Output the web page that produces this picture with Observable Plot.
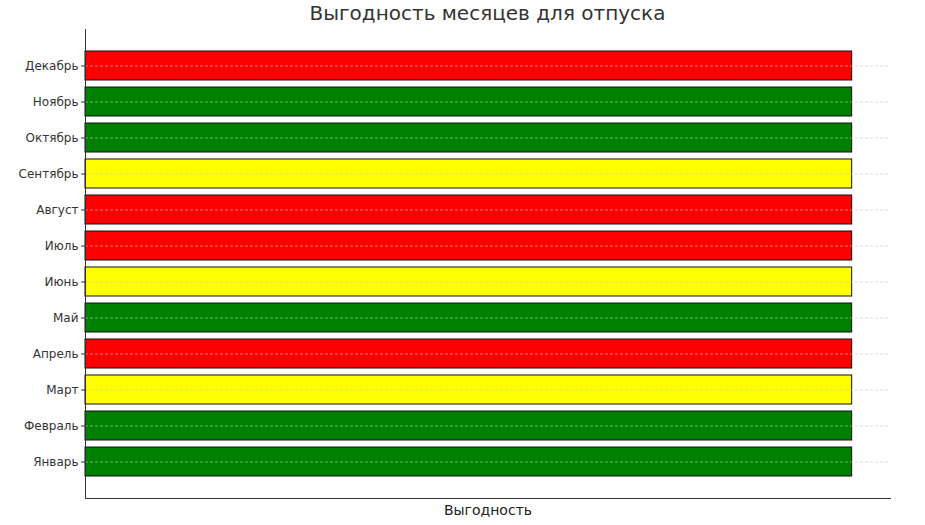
<!DOCTYPE html>
<html><head><meta charset="utf-8">
<script src="https://cdn.jsdelivr.net/npm/d3@7"></script>
<script src="https://cdn.jsdelivr.net/npm/@observablehq/plot@0.6"></script>
<style>
body{margin:0;background:#fff;font-family:"DejaVu Sans",sans-serif;}
#title{height:29px;line-height:27px;text-align:center;font-size:20px;color:#333;padding-left:50px;}
</style></head>
<body>
<div id="title">Выгодность месяцев для отпуска</div>
<div id="chart"></div>
<script>
const months = ["Январь","Февраль","Март","Апрель","Май","Июнь","Июль","Август","Сентябрь","Октябрь","Ноябрь","Декабрь"];
const values = [1,1,1,1,1,1,1,1,1,1,1,1];
const colors = ["green","green","yellow","red","green","yellow","red","red","yellow","green","green","red"];
const colorHex = {green:"#008000", yellow:"#ffff00", red:"#ff0000"};
const data = months.map((m,i)=>({month:m, value:values[i], color:colorHex[colors[i]]}));

const chart = Plot.plot({
  width: 925, height: 496,
  marginTop: 0, marginBottom: 27, marginLeft: 85, marginRight: 35,
  style: {fontFamily: "DejaVu Sans, sans-serif", fontSize: "12px", color: "#333"},
  x: {domain: [0, 1.05], axis: null},
  y: {domain: months.slice().reverse(), paddingInner: 0.2, paddingOuter: 0.6, label: null},
  marks: [
    Plot.barX(data, {y: "month", x: "value", fill: "color", stroke: "#111", strokeWidth: 1}),
    Plot.gridY({stroke: "#c8c8c8", strokeOpacity: 1, strokeDasharray: "3,2", strokeWidth: 0.6}),
    Plot.axisY({tickSize: 4, tickPadding: 3, fontSize: 12, label: null, stroke: "#333"}),
    Plot.frame({anchor: "left", stroke: "#333"}),
    Plot.frame({anchor: "bottom", stroke: "#333"}),
    Plot.text(["Выгодность"], {frameAnchor: "bottom", dy: 16, fontSize: 14, fill: "#222"})
  ]
});
document.getElementById("chart").appendChild(chart);
</script>
</body></html>
